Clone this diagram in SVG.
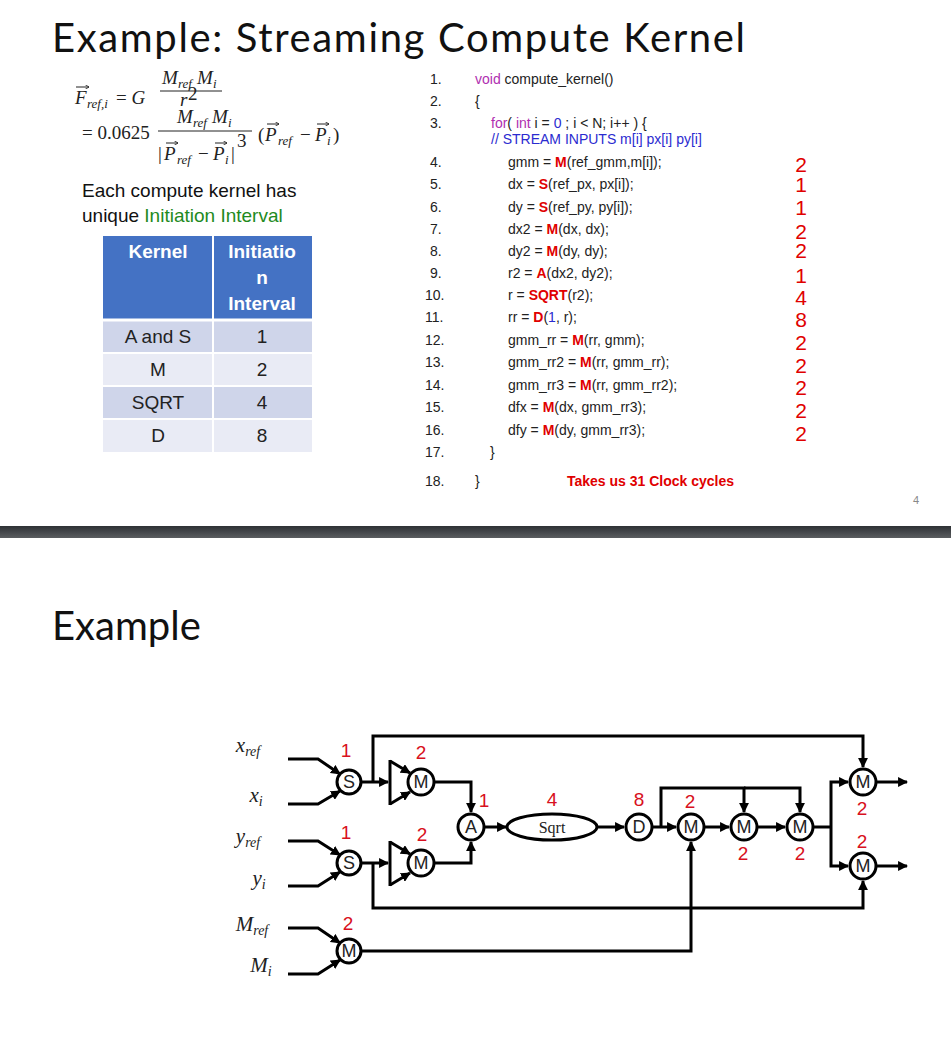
<svg xmlns="http://www.w3.org/2000/svg" width="951" height="1054" viewBox="0 0 951 1054">
<defs>
<marker id="ah" viewBox="0 0 10 10" refX="9" refY="5" markerWidth="3.3" markerHeight="3.3" orient="auto"><path d="M0,0 L10,5 L0,10 z" fill="#000"/></marker>
<marker id="vh" viewBox="0 0 10 10" refX="9" refY="5" markerWidth="4" markerHeight="4" markerUnits="userSpaceOnUse" orient="auto"><path d="M0,0 L10,5 L0,10" fill="none" stroke="#222" stroke-width="2"/></marker>
<linearGradient id="sep" x1="0" y1="0" x2="0" y2="1"><stop offset="0" stop-color="#2e3135"/><stop offset="1" stop-color="#5a5d60"/></linearGradient>
</defs>
<style>
.title{font-family:Lato,"Open Sans",sans-serif;font-size:40px;fill:#111}
.m{font-family:"Liberation Serif",serif;font-style:italic;font-size:19px;fill:#222}
.s{font-family:"Liberation Serif",serif;font-style:italic;font-size:13px;fill:#222}
.mr{font-family:"Liberation Serif",serif;font-size:19px;fill:#222}
.vec{stroke:#222;stroke-width:1;marker-end:url(#vh)}
.body{font-family:"Liberation Sans",Arial,sans-serif;font-size:19px;fill:#111}
.th{font-family:"Liberation Sans",Arial,sans-serif;font-size:19px;font-weight:bold;fill:#fff;text-anchor:middle}
.td{font-family:"Liberation Sans",Arial,sans-serif;font-size:19px;fill:#222;text-anchor:middle}
.code{font-family:"Liberation Sans",Arial,sans-serif;font-size:14px;fill:#222}
.kw{fill:#b02fb0}.bl{fill:#2b2bd0}.rd{fill:#e00000;font-weight:bold}
.cnt{font-family:"Liberation Sans",Arial,sans-serif;font-size:21px;fill:#e00000;text-anchor:middle}
.node{fill:#fff;stroke:#000;stroke-width:3}
.nt{font-family:"Liberation Sans",Arial,sans-serif;font-size:18px;fill:#222;text-anchor:middle}
.lbl{font-family:"Liberation Sans",Arial,sans-serif;font-size:19px;fill:#d81020;text-anchor:middle}
.in{font-family:"Liberation Serif",serif;font-style:italic;font-size:21px;fill:#222;text-anchor:middle}
.w{fill:none;stroke:#000;stroke-width:3}
.wa{fill:none;stroke:#000;stroke-width:3;marker-end:url(#ah)}
</style>
<rect width="951" height="1054" fill="#fff"/>
<text class="title" x="52" y="52" textLength="693">Example: Streaming Compute Kernel</text>
<g id="formula">
<text class="m" x="75" y="104">F</text><line class="vec" x1="76" y1="87" x2="89" y2="87"/><text class="s" x="87" y="108">ref,i</text>
<text class="mr" x="116" y="104">= <tspan font-style="italic">G</tspan></text>
<text class="m" x="162" y="84">M</text><text class="s" x="178" y="88">ref</text><text class="m" x="197" y="84">M</text><text class="s" x="213" y="88">i</text>
<line x1="160" y1="91" x2="222" y2="91" stroke="#222" stroke-width="1"/>
<text class="m" x="180" y="106">r</text><text class="mr" x="188" y="100" font-size="12">2</text>
<text class="mr" x="82" y="139">= 0.0625</text>
<text class="m" x="177" y="123">M</text><text class="s" x="193" y="127">ref</text><text class="m" x="212" y="123">M</text><text class="s" x="228" y="127">i</text>
<line x1="158" y1="131" x2="252" y2="131" stroke="#222" stroke-width="1"/>
<text class="mr" x="158" y="160">|</text><text class="m" x="164" y="160">P</text><line class="vec" x1="166" y1="143" x2="178" y2="143"/><text class="s" x="177" y="164">ref</text>
<text class="mr" x="198" y="160">−</text><text class="m" x="213" y="160">P</text><line class="vec" x1="215" y1="143" x2="227" y2="143"/><text class="s" x="225" y="164">i</text><text class="mr" x="231" y="160">|</text><text class="mr" x="237" y="147" font-size="12">3</text>
<text class="mr" x="258" y="141">(</text><text class="m" x="265" y="141">P</text><line class="vec" x1="267" y1="124" x2="279" y2="124"/><text class="s" x="278" y="145">ref</text>
<text class="mr" x="300" y="141">−</text><text class="m" x="315" y="141">P</text><line class="vec" x1="317" y1="124" x2="329" y2="124"/><text class="s" x="327" y="145">i</text><text class="mr" x="333" y="141">)</text>
</g>
<text class="body" x="82" y="197">Each compute kernel has</text>
<text class="body" x="82" y="222">unique <tspan fill="#1e8a1e">Initiation Interval</tspan></text>
<g id="table">
<rect x="103" y="236" width="209" height="84" fill="#4472c4"/>
<rect x="103" y="320" width="209" height="33" fill="#cfd5ea"/>
<rect x="103" y="353" width="209" height="33" fill="#e9ebf5"/>
<rect x="103" y="386" width="209" height="33" fill="#cfd5ea"/>
<rect x="103" y="419" width="209" height="33" fill="#e9ebf5"/>
<g stroke="#fff" stroke-width="2"><line x1="213" y1="236" x2="213" y2="452"/><line x1="103" y1="320" x2="312" y2="320" stroke-width="3"/><line x1="103" y1="353" x2="312" y2="353"/><line x1="103" y1="386" x2="312" y2="386"/><line x1="103" y1="419" x2="312" y2="419"/></g>
<text class="th" x="158" y="258">Kernel</text>
<text class="th" x="262" y="258">Initiatio</text>
<text class="th" x="262" y="284">n</text>
<text class="th" x="262" y="310">Interval</text>
<text class="td" x="158" y="343">A and S</text><text class="td" x="262" y="343">1</text>
<text class="td" x="158" y="376">M</text><text class="td" x="262" y="376">2</text>
<text class="td" x="158" y="409">SQRT</text><text class="td" x="262" y="409">4</text>
<text class="td" x="158" y="442">D</text><text class="td" x="262" y="442">8</text>
</g>
<g id="code" class="code">
<text x="430" y="84">1.</text><text x="475" y="84"><tspan class="kw">void</tspan> compute_kernel()</text>
<text x="430" y="106">2.</text><text x="475" y="106">{</text>
<text x="430" y="128">3.</text><text x="491" y="128"><tspan class="kw">for</tspan>( <tspan class="kw">int</tspan> i = <tspan class="bl">0</tspan> ; i &lt; N; i++ ) {</text>
<text x="491" y="144" class="bl">// STREAM INPUTS m[i] px[i] py[i]</text>
<text x="430" y="167">4.</text><text x="508" y="167">gmm = <tspan class="rd">M</tspan>(ref_gmm,m[i]);</text>
<text x="430" y="189">5.</text><text x="508" y="189">dx = <tspan class="rd">S</tspan>(ref_px, px[i]);</text>
<text x="430" y="212">6.</text><text x="508" y="212">dy = <tspan class="rd">S</tspan>(ref_py, py[i]);</text>
<text x="430" y="234">7.</text><text x="508" y="234">dx2 = <tspan class="rd">M</tspan>(dx, dx);</text>
<text x="430" y="256">8.</text><text x="508" y="256">dy2 = <tspan class="rd">M</tspan>(dy, dy);</text>
<text x="430" y="278">9.</text><text x="508" y="278">r2 = <tspan class="rd">A</tspan>(dx2, dy2);</text>
<text x="425" y="300">10.</text><text x="508" y="300">r = <tspan class="rd">SQRT</tspan>(r2);</text>
<text x="425" y="322">11.</text><text x="508" y="322">rr = <tspan class="rd">D</tspan>(<tspan class="bl">1</tspan>, r);</text>
<text x="425" y="345">12.</text><text x="508" y="345">gmm_rr = <tspan class="rd">M</tspan>(rr, gmm);</text>
<text x="425" y="367">13.</text><text x="508" y="367">gmm_rr2 = <tspan class="rd">M</tspan>(rr, gmm_rr);</text>
<text x="425" y="390">14.</text><text x="508" y="390">gmm_rr3 = <tspan class="rd">M</tspan>(rr, gmm_rr2);</text>
<text x="425" y="412">15.</text><text x="508" y="412">dfx = <tspan class="rd">M</tspan>(dx, gmm_rr3);</text>
<text x="425" y="435">16.</text><text x="508" y="435">dfy = <tspan class="rd">M</tspan>(dy, gmm_rr3);</text>
<text x="425" y="457">17.</text><text x="490" y="457">}</text>
<text x="425" y="486">18.</text><text x="475" y="486">}</text>
<text x="567" y="486" class="rd">Takes us 31 Clock cycles</text>
</g>
<g id="counts">
<text class="cnt" x="801" y="172">2</text><text class="cnt" x="801" y="192">1</text><text class="cnt" x="801" y="215">1</text>
<text class="cnt" x="801" y="239">2</text><text class="cnt" x="801" y="258">2</text><text class="cnt" x="801" y="283">1</text>
<text class="cnt" x="801" y="305">4</text><text class="cnt" x="801" y="327">8</text><text class="cnt" x="801" y="350">2</text>
<text class="cnt" x="801" y="373">2</text><text class="cnt" x="801" y="395">2</text><text class="cnt" x="801" y="418">2</text><text class="cnt" x="801" y="441">2</text>
</g>
<text x="913" y="504" font-family="Liberation Sans,Arial,sans-serif" font-size="11" fill="#888">4</text>
<rect x="0" y="526" width="951" height="12" fill="url(#sep)"/>
<text class="title" x="52" y="640">Example</text>
<g id="inputs">
<text class="in" x="248" y="752">x<tspan font-size="14" dy="4">ref</tspan></text>
<text class="in" x="256" y="802">x<tspan font-size="14" dy="4">i</tspan></text>
<text class="in" x="248" y="843">y<tspan font-size="14" dy="4">ref</tspan></text>
<text class="in" x="259" y="885">y<tspan font-size="14" dy="4">i</tspan></text>
<text class="in" x="252" y="931">M<tspan font-size="14" dy="4">ref</tspan></text>
<text class="in" x="261" y="972">M<tspan font-size="14" dy="4">i</tspan></text>
</g>
<g id="connectors">
<polyline class="wa" points="288,759 318,759 340,774"/>
<polyline class="wa" points="288,804 318,804 340,791"/>
<polyline class="wa" points="288,841 318,841 340,855"/>
<polyline class="wa" points="288,886 318,886 340,872"/>
<polyline class="wa" points="288,928 318,928 340,943"/>
<polyline class="wa" points="288,974 318,974 340,960"/>
<polyline class="wa" points="361,782 388,782"/>
<polyline class="wa" points="361,863 388,863"/>
<line class="w" x1="390" y1="760" x2="390" y2="805"/>
<line class="w" x1="390" y1="841" x2="390" y2="886"/>
<polyline class="wa" points="390,761 410,773"/>
<polyline class="wa" points="390,804 410,792"/>
<polyline class="wa" points="390,842 410,854"/>
<polyline class="wa" points="390,885 410,873"/>
<polyline class="wa" points="373,782 373,736 863,736 863,767"/>
<polyline class="wa" points="373,863 373,908 863,908 863,881"/>
<polyline class="wa" points="434,782 471,782 471,812"/>
<polyline class="wa" points="434,863 471,863 471,842"/>
<polyline class="wa" points="484,827 506,827"/>
<polyline class="wa" points="597,827 624,827"/>
<polyline class="wa" points="652,827 676,827"/>
<polyline class="wa" points="661,827 661,788 744,788 744,812"/>
<polyline class="wa" points="744,788 800,788 800,812"/>
<polyline class="wa" points="704,827 729,827"/>
<polyline class="wa" points="757,827 785,827"/>
<polyline class="w" points="813,827 831,827"/>
<polyline class="wa" points="831,827 831,782 848,782"/>
<polyline class="wa" points="831,827 831,866 848,866"/>
<polyline class="wa" points="362,951 691,951 691,842"/>
<polyline class="wa" points="876,782 907,782"/>
<polyline class="wa" points="876,866 907,866"/>
</g>
<g id="S1"><circle class="node" cx="349" cy="782" r="12"/><text class="nt" x="349" y="788">S</text><text class="lbl" x="346" y="757">1</text></g>
<g id="M1"><circle class="node" cx="421" cy="782" r="13"/><text class="nt" x="421" y="788">M</text><text class="lbl" x="421" y="759">2</text></g>
<g id="S2"><circle class="node" cx="349" cy="863" r="12"/><text class="nt" x="349" y="869">S</text><text class="lbl" x="346" y="839">1</text></g>
<g id="M2"><circle class="node" cx="421" cy="863" r="13"/><text class="nt" x="421" y="869">M</text><text class="lbl" x="422" y="841">2</text></g>
<g id="A"><circle class="node" cx="471" cy="827" r="13"/><text class="nt" x="471" y="833">A</text><text class="lbl" x="484" y="807">1</text></g>
<g id="Sqrt"><ellipse class="node" cx="552" cy="827" rx="45" ry="13"/><text x="552" y="833" text-anchor="middle" font-family="Liberation Serif,serif" font-size="16" fill="#222">Sqrt</text><text class="lbl" x="552" y="806">4</text></g>
<g id="D"><circle class="node" cx="639" cy="827" r="13"/><text class="nt" x="639" y="833">D</text><text class="lbl" x="639" y="806">8</text></g>
<g id="M4"><circle class="node" cx="691" cy="827" r="13"/><text class="nt" x="691" y="833">M</text><text class="lbl" x="690" y="808">2</text></g>
<g id="M5"><circle class="node" cx="744" cy="827" r="13"/><text class="nt" x="744" y="833">M</text><text class="lbl" x="743" y="860">2</text></g>
<g id="M6"><circle class="node" cx="800" cy="827" r="13"/><text class="nt" x="800" y="833">M</text><text class="lbl" x="800" y="860">2</text></g>
<g id="M7"><circle class="node" cx="863" cy="782" r="13"/><text class="nt" x="863" y="788">M</text><text class="lbl" x="862" y="815">2</text></g>
<g id="M8"><circle class="node" cx="863" cy="866" r="13"/><text class="nt" x="863" y="872">M</text><text class="lbl" x="862" y="848">2</text></g>
<g id="M9"><circle class="node" cx="349" cy="951" r="12"/><text class="nt" x="349" y="957">M</text><text class="lbl" x="348" y="930">2</text></g>
</svg>
